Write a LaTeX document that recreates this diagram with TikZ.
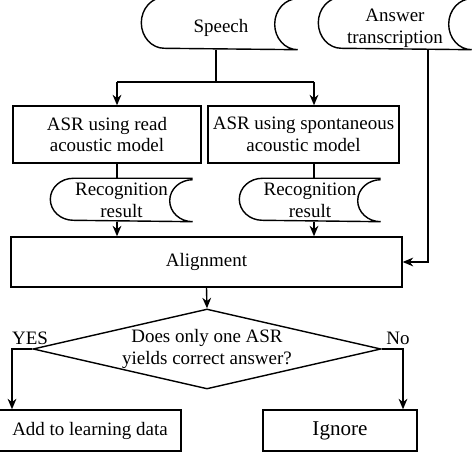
\documentclass[tikz,border=0pt]{standalone}
\usepackage{fontspec}
\setmainfont{Liberation Serif}
\usetikzlibrary{shapes.geometric,arrows.meta}

% outline of a stored-data symbol round a node
\newcommand{\storedshape}[2]{%
\draw ([xshift=.23cm]#1.north east) -- ([xshift=.23cm]#1.north west)
  arc[start angle=90,end angle=270,x radius=.46cm,y radius=#2]
  -- ([xshift=.23cm]#1.south east)
  arc[start angle=270,end angle=90,x radius=.46cm,y radius=#2];}

\tikzset{
  box/.style={draw, rectangle, align=center, inner sep=1pt},
  tape/.style={rectangle, align=center, inner sep=0pt},
  flow/.style={-{Stealth[length=6pt,width=5pt]}},
}

\begin{document}
\begin{tikzpicture}[x=0.02cm, y=-0.02cm, line width=0.8pt,
  font=\fontsize{10.8}{12.5}\selectfont]
\useasboundingbox (0,0) rectangle (474,452);

\node[tape, minimum width=2.64cm, minimum height=1.02cm] (speech) at (219.5,23.5) {};
\node[tape, minimum width=2.58cm, minimum height=1.02cm] (answer) at (395,23.5) {};
\storedshape{speech}{.51cm}
\storedshape{answer}{.51cm}
\node[tape] (speechtext) at (221,28) {Speech};
\node[tape] (answertext) at (395,28) {Answer\\transcription};

\node[box, minimum width=3.76cm, minimum height=1.14cm] (read) at (107,134.5) {ASR using read\\acoustic model};
\node[box, minimum width=3.82cm, minimum height=1.14cm] (spont) at (303.5,134.5) {ASR using spontaneous\\acoustic model};

\node[tape, minimum width=2.36cm, minimum height=.84cm] (rec1) at (121.5,200) {Recognition\\result};
\node[tape, minimum width=2.34cm, minimum height=.84cm] (rec2) at (310,200) {Recognition\\result};
\storedshape{rec1}{.42cm}
\storedshape{rec2}{.42cm}

\node[box, minimum width=7.82cm, minimum height=1.0cm] (align) at (206.5,262) {Alignment};

\node[draw, diamond, aspect=4.35, inner sep=0pt, align=center,
  minimum width=6.96cm, minimum height=1.6cm] (decide) at (207,349)
  {Does only one ASR\\yields correct answer?};
\node (yes) at (30,338) {YES};
\node (no) at (398,338) {No};

\node[box, minimum width=3.64cm, minimum height=.82cm] (learn) at (90,430.5) {Add to learning data};
\node[box, minimum width=3.08cm, minimum height=.82cm, font=\fontsize{12}{14}\selectfont] (ignore) at (340,430.5) {Ignore};

\coordinate (split) at (216,82);
\coordinate (c1) at (117,82);
\coordinate (c2) at (314,82);
\coordinate (c3) at (12,348);
\coordinate (c4) at (403,348);
\coordinate (ans) at (428,262);

\draw (split |- speech.south) -- (split);
\draw (c1) -- (c2);
\draw[flow] (c1) -- (c1 |- read.north);
\draw[flow] (c2) -- (c2 |- spont.north);
\draw (c1 |- read.south) -- (c1 |- rec1.north);
\draw (c2 |- spont.south) -- (c2 |- rec2.north);
\draw[flow] (c1 |- rec1.south) -- (c1 |- align.north);
\draw[flow] (c2 |- rec2.south) -- (c2 |- align.north);
\draw[flow] (ans |- answer.south) |- (align.east);
\draw[flow] (align.south) -- (decide.north);
\draw[flow] (decide.west) -| (c3 |- learn.north);
\draw[flow] (decide.east) -| (c4 |- ignore.north);
\end{tikzpicture}
\end{document}
